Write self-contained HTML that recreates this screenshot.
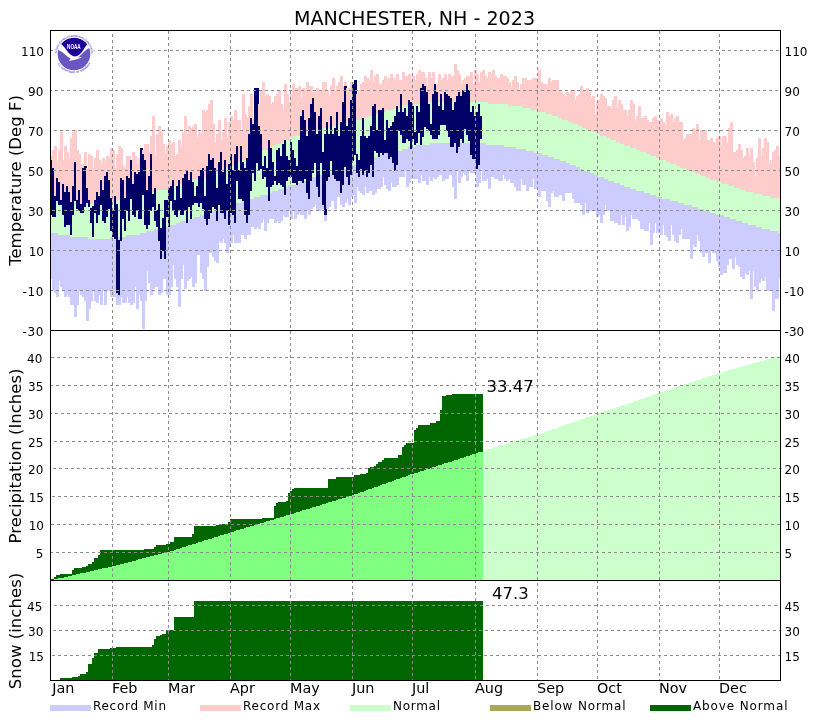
<!DOCTYPE html>
<html lang="en"><head><meta charset="utf-8"><title>MANCHESTER, NH - 2023</title>
<style>html,body{margin:0;padding:0;background:#fff}svg{display:block}</style></head>
<body><svg width="830" height="720" viewBox="0 0 830 720">
<rect x="0" y="0" width="830" height="720" fill="#fff"/>
<g shape-rendering="crispEdges">
<path fill="#ffcccc" d="M50 156h2v4h-2zM52 150h2v18h-2zM54 146h2v50h-2zM56 146h1v32h-1zM57 162h1v16h-1zM58 150h2v32h-2zM60 132h2v68h-2zM62 132h1v52h-1zM63 160h1v24h-1zM64 146h2v46h-2zM66 146h1v40h-1zM67 152h1v34h-1zM68 152h1v40h-1zM69 158h1v34h-1zM70 138h2v64h-2zM72 132h2v54h-2zM74 130h2v32h-2zM74 201h2v1h-2zM76 130h1v70h-1zM77 150h1v50h-1zM78 150h1v40h-1zM79 154h1v36h-1zM80 154h1v50h-1zM81 164h1v40h-1zM82 164h2v4h-2zM84 152h3v14h-3zM86 168h2v20h-2zM86 203h2v1h-2zM88 154h2v46h-2zM90 154h1v50h-1zM91 156h2v48h-2zM93 168h1v36h-1zM94 158h2v42h-2zM96 150h2v42h-2zM98 150h1v46h-1zM99 160h1v36h-1zM100 160h1v20h-1zM101 164h1v16h-1zM102 158h2v32h-2zM104 158h1v18h-1zM105 162h1v14h-1zM106 156h2v16h-2zM108 156h1v24h-1zM109 158h1v22h-1zM110 148h2v50h-2zM112 148h1v54h-1zM113 150h1v52h-1zM114 150h1v46h-1zM115 168h1v28h-1zM116 154h2v48h-2zM118 146h2v54h-2zM120 146h1v32h-1zM121 148h1v30h-1zM122 148h1v32h-1zM123 166h1v14h-1zM124 166h1v32h-1zM125 168h1v30h-1zM126 156h2v20h-2zM128 156h2v22h-2zM130 156h1v4h-1zM132 152h2v32h-2zM134 152h1v20h-1zM135 156h1v16h-1zM136 156h1v18h-1zM137 164h1v10h-1zM138 158h2v14h-2zM142 150h2v4h-2zM142 195h2v1h-2zM144 144h2v16h-2zM146 144h2v46h-2zM148 144h1v32h-1zM149 152h1v24h-1zM150 136h2v18h-2zM152 116h2v76h-2zM154 116h1v72h-1zM155 156h1v32h-1zM156 134h2v56h-2zM158 126h3v64h-3zM161 132h2v58h-2zM163 144h2v46h-2zM165 154h1v36h-1zM166 146h2v44h-2zM168 140h2v48h-2zM170 140h1v46h-1zM171 144h1v42h-1zM172 142h2v38h-2zM174 142h1v44h-1zM175 156h1v30h-1zM176 154h2v32h-2zM178 140h2v40h-2zM180 140h1v44h-1zM181 146h1v38h-1zM182 132h2v46h-2zM184 116h2v58h-2zM186 116h1v54h-1zM187 134h1v36h-1zM188 126h2v54h-2zM190 126h1v46h-1zM191 128h1v44h-1zM192 126h2v54h-2zM194 124h3v56h-3zM197 138h1v42h-1zM198 132h2v44h-2zM200 132h1v38h-1zM201 134h1v36h-1zM202 110h2v58h-2zM204 110h1v68h-1zM205 112h1v66h-1zM206 110h2v56h-2zM208 104h2v50h-2zM210 100h2v60h-2zM212 100h1v58h-1zM213 124h1v34h-1zM214 124h1v44h-1zM215 142h1v26h-1zM216 134h2v38h-2zM218 120h2v42h-2zM220 120h1v32h-1zM221 140h1v12h-1zM222 132h2v38h-2zM224 118h2v42h-2zM226 118h1v50h-1zM227 138h1v30h-1zM228 122h2v42h-2zM230 116h2v38h-2zM232 116h1v50h-1zM233 120h1v46h-1zM234 110h2v44h-2zM236 110h1v36h-1zM237 120h1v26h-1zM238 120h2v42h-2zM240 120h1v26h-1zM241 130h1v16h-1zM242 94h3v66h-3zM245 114h1v46h-1zM246 114h1v44h-1zM247 118h1v40h-1zM248 106h2v28h-2zM250 94h2v24h-2zM252 94h1v30h-1zM253 118h1v6h-1zM258 104h2v22h-2zM260 90h2v44h-2zM262 82h3v68h-3zM265 96h1v54h-1zM266 94h2v56h-2zM268 94h1v46h-1zM269 96h1v44h-1zM270 96h1v52h-1zM271 104h1v44h-1zM272 102h2v44h-2zM274 96h2v50h-2zM276 94h2v50h-2zM278 90h3v54h-3zM281 104h1v40h-1zM282 104h1v38h-1zM283 108h1v34h-1zM284 84h3v56h-3zM287 94h2v46h-2zM289 102h1v38h-1zM290 94h2v44h-2zM292 84h2v54h-2zM294 84h1v52h-1zM295 88h3v48h-3zM298 86h2v50h-2zM300 86h1v30h-1zM301 98h1v18h-1zM302 88h2v22h-2zM304 88h1v32h-1zM305 90h1v30h-1zM306 82h2v52h-2zM308 82h1v36h-1zM309 86h1v32h-1zM310 86h2v18h-2zM312 86h1v12h-1zM313 92h1v6h-1zM314 92h2v20h-2zM316 88h2v42h-2zM318 88h1v28h-1zM319 90h1v26h-1zM320 90h2v18h-2zM322 82h4v46h-4zM326 82h1v40h-1zM327 90h1v32h-1zM328 90h1v38h-1zM329 96h1v32h-1zM330 86h2v30h-2zM332 78h3v48h-3zM335 90h1v36h-1zM336 86h2v26h-2zM338 82h2v42h-2zM340 76h2v46h-2zM342 76h1v26h-1zM343 86h1v16h-1zM344 82h3v4h-3zM346 88h2v34h-2zM348 88h2v30h-2zM350 82h2v18h-2zM352 82h2v2h-2zM356 94h2v26h-2zM358 90h2v30h-2zM360 84h2v36h-2zM362 82h2v36h-2zM364 76h3v42h-3zM367 78h1v40h-1zM368 78h1v38h-1zM369 80h1v36h-1zM370 70h2v46h-2zM372 70h1v36h-1zM373 82h1v24h-1zM374 76h2v28h-2zM376 74h2v40h-2zM378 74h1v36h-1zM379 84h3v26h-3zM382 80h2v28h-2zM384 76h2v36h-2zM386 76h1v34h-1zM387 82h1v28h-1zM388 78h2v32h-2zM390 74h3v36h-3zM393 78h1v32h-1zM394 78h1v30h-1zM395 80h1v28h-1zM396 74h2v32h-2zM398 74h1v34h-1zM399 80h1v28h-1zM400 80h2v14h-2zM402 72h3v34h-3zM405 76h3v30h-3zM408 74h2v26h-2zM410 74h1v28h-1zM411 80h1v22h-1zM412 76h3v28h-3zM415 80h1v24h-1zM416 74h2v30h-2zM418 70h2v34h-2zM420 70h1v18h-1zM421 72h1v16h-1zM422 72h2v12h-2zM424 72h1v14h-1zM425 78h1v8h-1zM426 78h1v14h-1zM427 86h1v6h-1zM428 72h3v30h-3zM431 78h1v24h-1zM432 72h2v22h-2zM434 72h1v12h-1zM436 84h2v8h-2zM438 74h2v28h-2zM440 74h1v20h-1zM441 80h1v14h-1zM442 78h2v24h-2zM444 74h2v18h-2zM446 74h1v20h-1zM447 80h1v14h-1zM448 74h2v22h-2zM450 74h1v24h-1zM451 76h1v22h-1zM452 76h2v26h-2zM454 64h2v38h-2zM456 64h1v32h-1zM457 70h1v26h-1zM458 70h1v22h-1zM459 74h1v18h-1zM460 74h1v22h-1zM461 84h1v12h-1zM462 80h2v10h-2zM464 78h2v14h-2zM466 76h2v8h-2zM468 76h2v14h-2zM470 72h3v30h-3zM473 84h1v18h-1zM474 70h3v32h-3zM477 74h2v28h-2zM479 82h1v20h-1zM480 72h2v30h-2zM482 70h3v32h-3zM485 76h2v26h-2zM487 78h1v24h-1zM488 72h3v32h-3zM491 74h1v30h-1zM492 70h3v34h-3zM495 76h2v28h-2zM497 78h3v26h-3zM500 74h3v30h-3zM503 76h4v28h-4zM507 78h1v26h-1zM508 78h1v28h-1zM509 82h2v24h-2zM511 86h1v20h-1zM512 80h2v26h-2zM514 76h3v30h-3zM517 82h2v24h-2zM519 90h1v16h-1zM520 84h2v22h-2zM522 78h5v30h-5zM527 80h3v28h-3zM530 80h2v30h-2zM532 78h6v32h-6zM538 70h3v42h-3zM541 82h2v30h-2zM543 84h3v28h-3zM546 84h2v30h-2zM548 78h3v36h-3zM551 82h1v32h-1zM552 80h6v36h-6zM558 80h1v38h-1zM559 90h2v28h-2zM561 92h1v26h-1zM562 92h1v28h-1zM563 94h2v26h-2zM565 96h1v24h-1zM566 92h2v28h-2zM568 92h1v30h-1zM569 94h1v28h-1zM570 90h2v32h-2zM572 90h3v34h-3zM575 100h1v24h-1zM576 96h2v28h-2zM578 94h2v32h-2zM580 86h2v40h-2zM582 86h1v42h-1zM583 90h3v38h-3zM586 88h3v42h-3zM589 92h2v38h-2zM591 98h1v32h-1zM592 96h3v36h-3zM595 114h1v18h-1zM596 102h2v32h-2zM598 100h2v34h-2zM600 94h3v42h-3zM603 96h2v40h-2zM605 98h1v38h-1zM606 98h1v40h-1zM607 106h3v32h-3zM610 106h1v34h-1zM611 108h1v32h-1zM612 100h2v40h-2zM614 96h2v44h-2zM616 96h1v46h-1zM617 108h1v34h-1zM618 100h2v42h-2zM620 100h1v44h-1zM621 104h2v40h-2zM623 110h1v34h-1zM624 110h3v36h-3zM627 116h1v30h-1zM628 110h2v36h-2zM630 100h3v48h-3zM633 104h2v44h-2zM635 122h1v26h-1zM636 116h2v34h-2zM638 106h2v44h-2zM640 106h1v46h-1zM641 118h3v34h-3zM644 116h2v36h-2zM646 116h1v38h-1zM647 120h2v34h-2zM649 122h1v32h-1zM650 122h2v34h-2zM652 118h2v38h-2zM654 116h2v40h-2zM656 116h1v42h-1zM657 120h3v38h-3zM660 118h3v42h-3zM663 122h2v38h-2zM665 124h1v36h-1zM666 112h3v50h-3zM669 116h1v46h-1zM670 114h3v50h-3zM673 122h1v42h-1zM674 118h2v46h-2zM676 116h3v50h-3zM679 122h1v44h-1zM680 122h3v46h-3zM683 140h1v28h-1zM684 138h2v30h-2zM686 134h4v36h-4zM690 134h2v38h-2zM692 128h3v44h-3zM695 130h1v42h-1zM696 124h3v50h-3zM699 140h1v34h-1zM700 130h6v46h-6zM706 130h1v48h-1zM707 140h3v38h-3zM710 138h3v42h-3zM713 142h2v38h-2zM715 144h1v36h-1zM716 138h2v44h-2zM718 136h3v46h-3zM721 146h1v36h-1zM722 136h5v48h-5zM727 142h1v42h-1zM728 128h2v58h-2zM730 122h3v64h-3zM733 152h1v34h-1zM734 152h2v36h-2zM736 150h2v38h-2zM738 144h2v44h-2zM740 144h1v46h-1zM741 150h2v40h-2zM743 158h1v32h-1zM744 156h2v34h-2zM746 148h3v44h-3zM749 156h1v36h-1zM750 148h3v44h-3zM753 162h1v30h-1zM754 162h1v32h-1zM755 176h1v18h-1zM756 158h2v36h-2zM758 138h3v56h-3zM761 156h1v38h-1zM762 148h2v48h-2zM764 138h3v58h-3zM767 142h2v54h-2zM769 164h1v32h-1zM770 160h2v38h-2zM772 152h2v46h-2zM774 150h2v48h-2zM776 146h3v52h-3zM779 156h2v42h-2z"/>
<path fill="#ccccff" d="M50 233h2v46h-2zM52 233h2v58h-2zM54 233h2v60h-2zM56 233h2v64h-2zM58 235h1v62h-1zM59 235h1v46h-1zM60 235h2v52h-2zM62 235h2v56h-2zM64 235h3v62h-3zM67 235h1v60h-1zM68 235h2v62h-2zM70 237h4v68h-4zM74 237h3v80h-3zM77 237h2v68h-2zM79 237h1v54h-1zM80 237h2v58h-2zM82 237h2v60h-2zM84 237h2v64h-2zM86 237h2v84h-2zM88 239h1v82h-1zM89 239h2v70h-2zM91 239h2v62h-2zM93 239h1v52h-1zM94 239h2v62h-2zM96 239h3v64h-3zM99 239h1v56h-1zM100 239h3v66h-3zM103 239h1v52h-1zM104 239h3v66h-3zM107 239h3v52h-3zM110 237h4v60h-4zM114 239h2v58h-2zM116 293h2v12h-2zM118 295h2v10h-2zM118 237h2v3h-2zM120 241h1v64h-1zM121 241h1v56h-1zM122 237h4v66h-4zM126 235h1v68h-1zM127 235h1v62h-1zM128 235h2v68h-2zM130 235h3v70h-3zM133 235h2v68h-2zM135 235h1v52h-1zM136 235h3v74h-3zM139 235h1v60h-1zM140 233h2v68h-2zM142 233h3v96h-3zM145 233h1v68h-1zM146 231h1v70h-1zM147 231h1v40h-1zM148 231h2v52h-2zM150 231h3v64h-3zM153 231h1v58h-1zM154 229h1v60h-1zM155 229h3v58h-3zM158 241h2v54h-2zM160 259h1v36h-1zM161 259h1v34h-1zM162 251h1v42h-1zM163 251h1v28h-1zM164 259h2v20h-2zM166 227h4v68h-4zM170 225h1v70h-1zM171 225h2v62h-2zM173 225h1v40h-1zM174 225h2v54h-2zM176 223h2v64h-2zM178 223h2v84h-2zM180 221h1v86h-1zM181 221h2v58h-2zM183 221h1v44h-1zM184 221h2v68h-2zM186 223h1v66h-1zM187 223h1v58h-1zM188 219h1v62h-1zM189 219h2v60h-2zM191 219h1v58h-1zM192 219h2v68h-2zM194 217h1v70h-1zM195 217h2v66h-2zM197 217h3v38h-3zM200 215h2v58h-2zM202 215h2v64h-2zM204 219h2v72h-2zM206 225h1v66h-1zM207 225h1v42h-1zM208 219h1v48h-1zM209 219h1v34h-1zM210 213h2v40h-2zM212 211h2v46h-2zM214 211h2v50h-2zM216 221h2v42h-2zM218 209h1v54h-1zM219 209h1v32h-1zM220 213h3v30h-3zM223 213h1v26h-1zM224 219h2v24h-2zM226 211h2v42h-2zM228 225h1v28h-1zM229 225h1v22h-1zM230 213h1v34h-1zM231 213h1v30h-1zM232 215h1v28h-1zM233 215h1v20h-1zM234 223h2v20h-2zM236 203h5v40h-5zM241 203h1v32h-1zM242 201h2v34h-2zM244 215h2v24h-2zM246 223h1v16h-1zM247 223h1v12h-1zM248 215h2v20h-2zM250 199h1v36h-1zM251 199h3v28h-3zM254 197h3v32h-3zM257 197h1v30h-1zM258 197h2v32h-2zM260 195h1v34h-1zM261 195h2v28h-2zM263 195h1v24h-1zM264 195h3v36h-3zM267 195h1v28h-1zM268 201h1v22h-1zM269 201h1v18h-1zM270 193h2v26h-2zM272 191h2v28h-2zM274 191h3v32h-3zM277 191h1v30h-1zM278 189h3v34h-3zM281 189h2v32h-2zM283 189h1v26h-1zM284 195h2v22h-2zM286 187h2v30h-2zM288 185h1v32h-1zM289 185h1v26h-1zM290 185h3v34h-3zM293 185h1v26h-1zM294 185h3v34h-3zM297 185h1v30h-1zM298 183h1v32h-1zM299 183h1v30h-1zM300 181h2v34h-2zM302 183h2v32h-2zM304 181h2v38h-2zM306 193h1v26h-1zM307 193h1v18h-1zM308 199h2v16h-2zM310 181h1v34h-1zM311 181h1v28h-1zM312 177h1v32h-1zM313 177h2v30h-2zM315 177h1v28h-1zM316 187h2v24h-2zM318 197h2v14h-2zM320 175h1v36h-1zM321 175h1v34h-1zM322 205h2v4h-2zM324 215h3v6h-3zM326 181h2v28h-2zM328 177h1v32h-1zM329 177h1v30h-1zM330 173h1v34h-1zM331 173h1v28h-1zM332 175h2v26h-2zM334 179h2v30h-2zM336 181h1v28h-1zM337 181h3v16h-3zM340 193h2v12h-2zM342 185h2v22h-2zM344 169h1v38h-1zM345 169h1v34h-1zM346 177h1v26h-1zM347 177h1v22h-1zM348 185h2v20h-2zM350 175h1v30h-1zM351 175h1v22h-1zM352 165h1v32h-1zM353 165h1v30h-1zM354 165h2v38h-2zM356 173h1v30h-1zM357 173h1v14h-1zM358 177h2v14h-2zM360 169h2v24h-2zM362 175h2v20h-2zM364 171h1v24h-1zM365 171h1v16h-1zM366 177h2v16h-2zM368 173h1v20h-1zM369 173h1v18h-1zM370 165h2v26h-2zM372 177h2v18h-2zM374 157h1v38h-1zM375 157h2v36h-2zM377 157h3v32h-3zM380 155h1v34h-1zM381 155h2v32h-2zM383 155h1v22h-1zM384 153h2v32h-2zM386 153h2v36h-2zM388 159h2v32h-2zM390 157h1v34h-1zM391 157h1v26h-1zM392 163h2v24h-2zM394 171h2v16h-2zM396 165h1v22h-1zM397 165h1v20h-1zM398 151h1v34h-1zM399 151h3v26h-3zM402 149h3v28h-3zM405 149h1v22h-1zM406 149h2v38h-2zM408 147h1v40h-1zM409 147h1v36h-1zM410 149h1v34h-1zM411 149h1v30h-1zM412 147h4v32h-4zM416 145h2v34h-2zM418 145h3v38h-3zM421 145h1v30h-1zM422 145h4v36h-4zM426 145h3v40h-3zM429 145h1v32h-1zM430 143h3v38h-3zM433 143h1v34h-1zM434 143h3v36h-3zM437 143h2v34h-2zM439 143h3v32h-3zM442 143h3v38h-3zM445 143h4v36h-4zM449 143h1v32h-1zM450 147h2v28h-2zM452 147h2v40h-2zM454 143h2v56h-2zM456 153h1v46h-1zM457 153h1v18h-1zM458 147h2v36h-2zM460 143h1v40h-1zM461 143h2v34h-2zM463 143h1v30h-1zM464 143h2v32h-2zM466 143h3v38h-3zM469 143h1v28h-1zM470 155h2v18h-2zM472 159h3v14h-3zM475 159h1v12h-1zM476 169h2v18h-2zM478 165h1v22h-1zM479 165h1v18h-1zM480 143h1v40h-1zM481 143h1v26h-1zM482 143h4v38h-4zM486 145h1v36h-1zM487 145h1v34h-1zM488 145h3v44h-3zM491 145h3v32h-3zM494 145h4v34h-4zM498 145h5v36h-5zM503 145h1v30h-1zM504 147h2v32h-2zM506 147h3v34h-3zM509 147h1v32h-1zM510 147h4v36h-4zM514 147h2v40h-2zM516 149h5v42h-5zM521 149h1v30h-1zM522 149h4v36h-4zM526 151h3v40h-3zM529 151h4v36h-4zM533 151h1v28h-1zM534 153h4v36h-4zM538 153h3v44h-3zM541 153h1v38h-1zM542 155h4v36h-4zM546 155h2v46h-2zM548 157h3v50h-3zM551 157h2v36h-2zM553 157h1v34h-1zM554 159h5v38h-5zM559 159h1v36h-1zM560 161h2v34h-2zM562 161h3v40h-3zM565 161h1v32h-1zM566 163h4v30h-4zM570 165h2v28h-2zM572 165h2v34h-2zM574 165h2v38h-2zM576 167h4v36h-4zM580 169h2v36h-2zM582 169h2v46h-2zM584 171h1v44h-1zM585 171h1v32h-1zM586 171h3v42h-3zM589 171h1v40h-1zM590 173h4v38h-4zM594 175h2v36h-2zM596 175h2v42h-2zM598 177h1v40h-1zM599 177h1v38h-1zM600 177h3v46h-3zM603 177h1v38h-1zM604 179h1v36h-1zM605 179h1v26h-1zM606 179h2v32h-2zM608 181h2v30h-2zM610 181h4v40h-4zM614 183h4v40h-4zM618 183h2v42h-2zM620 185h1v40h-1zM621 185h1v30h-1zM622 185h2v40h-2zM624 187h1v38h-1zM625 187h1v30h-1zM626 187h3v44h-3zM629 187h1v40h-1zM630 189h1v38h-1zM631 189h1v26h-1zM632 189h4v30h-4zM636 191h2v28h-2zM638 191h2v30h-2zM640 191h4v38h-4zM644 193h5v38h-5zM649 193h1v30h-1zM650 195h3v50h-3zM653 195h2v38h-2zM655 195h1v28h-1zM656 197h4v36h-4zM660 197h2v38h-2zM662 199h1v36h-1zM663 199h1v26h-1zM664 199h2v36h-2zM666 199h2v38h-2zM668 199h2v42h-2zM670 201h1v40h-1zM671 201h1v24h-1zM672 201h2v34h-2zM674 201h2v40h-2zM676 201h2v42h-2zM678 203h1v40h-1zM679 203h2v32h-2zM681 203h1v26h-1zM682 203h2v36h-2zM684 205h6v34h-6zM690 205h2v54h-2zM692 207h1v52h-1zM693 207h1v38h-1zM694 207h3v40h-3zM697 207h1v28h-1zM698 209h2v32h-2zM700 209h2v44h-2zM702 209h2v48h-2zM704 211h1v46h-1zM705 211h3v42h-3zM708 211h2v52h-2zM710 213h1v50h-1zM711 213h1v38h-1zM712 213h4v40h-4zM716 215h2v46h-2zM718 215h2v52h-2zM720 215h3v60h-3zM723 215h1v58h-1zM724 217h3v56h-3zM727 217h2v48h-2zM729 217h1v42h-1zM730 219h2v40h-2zM732 219h3v50h-3zM735 219h1v38h-1zM736 221h2v44h-2zM738 221h2v46h-2zM740 221h2v56h-2zM742 223h3v56h-3zM745 223h1v50h-1zM746 223h2v52h-2zM748 225h1v50h-1zM749 225h1v46h-1zM750 225h3v74h-3zM753 225h1v46h-1zM754 225h2v62h-2zM756 227h3v64h-3zM759 227h2v56h-2zM761 227h1v52h-1zM762 229h3v52h-3zM765 229h1v48h-1zM766 229h4v62h-4zM770 231h2v60h-2zM772 231h3v80h-3zM775 231h3v68h-3zM778 233h1v66h-1zM779 233h2v46h-2z"/>
<path fill="#ccffcc" d="M50 215h2v18h-2zM52 217h4v16h-4zM56 201h2v32h-2zM58 205h4v30h-4zM62 215h2v20h-2zM64 227h2v8h-2zM66 225h4v10h-4zM70 235h2v2h-2zM72 215h2v22h-2zM74 202h2v35h-2zM76 209h2v28h-2zM78 211h2v26h-2zM80 213h4v24h-4zM84 207h2v30h-2zM86 204h2v33h-2zM88 207h2v32h-2zM90 223h2v16h-2zM90 204h2v4h-2zM92 237h2v2h-2zM92 204h2v2h-2zM94 213h2v26h-2zM96 223h2v16h-2zM98 215h2v24h-2zM100 205h2v34h-2zM102 221h2v18h-2zM104 223h2v16h-2zM106 217h2v22h-2zM108 209h2v30h-2zM110 231h2v6h-2zM112 202h2v8h-2zM116 202h2v2h-2zM118 200h2v37h-2zM122 219h2v18h-2zM124 231h2v6h-2zM126 211h2v24h-2zM128 221h2v14h-2zM130 199h2v36h-2zM132 215h2v20h-2zM134 217h2v18h-2zM136 211h2v24h-2zM138 219h2v16h-2zM140 219h2v14h-2zM142 196h2v37h-2zM144 225h2v8h-2zM146 229h2v2h-2zM148 225h2v6h-2zM150 211h2v20h-2zM152 192h2v2h-2zM152 207h2v24h-2zM154 221h2v8h-2zM156 190h2v20h-2zM156 227h2v2h-2zM158 190h2v14h-2zM160 190h2v38h-2zM162 190h2v28h-2zM164 190h4v10h-4zM166 217h2v10h-2zM170 201h2v24h-2zM172 211h2v14h-2zM174 215h2v10h-2zM174 186h2v14h-2zM176 217h2v6h-2zM178 211h2v12h-2zM180 184h2v14h-2zM180 215h4v6h-4zM184 211h2v10h-2zM188 207h2v12h-2zM192 205h2v14h-2zM192 180h2v2h-2zM194 180h2v16h-2zM194 203h4v14h-4zM196 180h2v6h-2zM198 207h2v10h-2zM200 203h2v12h-2zM202 209h2v6h-2zM204 178h2v18h-2zM212 207h2v4h-2zM214 209h2v2h-2zM216 172h2v16h-2zM218 205h2v4h-2zM222 170h2v2h-2zM226 168h2v16h-2zM232 166h2v4h-2zM236 181h2v22h-2zM238 162h2v8h-2zM238 199h4v4h-4zM242 160h2v2h-2zM244 160h2v8h-2zM250 191h2v8h-2zM252 173h2v26h-2zM254 181h2v16h-2zM256 163h2v34h-2zM258 171h2v26h-2zM260 169h2v26h-2zM262 179h2v16h-2zM262 150h2v16h-2zM264 177h2v18h-2zM264 150h2v6h-2zM266 187h2v8h-2zM266 150h2v18h-2zM270 187h2v6h-2zM272 146h2v16h-2zM272 185h2v6h-2zM274 146h2v30h-2zM274 181h2v10h-2zM276 144h2v6h-2zM276 185h2v6h-2zM278 144h2v4h-2zM278 183h2v6h-2zM280 185h2v4h-2zM280 144h2v12h-2zM282 187h2v2h-2zM282 142h2v2h-2zM286 140h2v16h-2zM286 181h2v6h-2zM288 140h2v20h-2zM288 177h4v8h-4zM290 138h2v4h-2zM292 138h2v12h-2zM292 183h4v2h-4zM294 136h2v22h-2zM296 136h2v30h-2zM298 136h2v4h-2zM298 181h2v2h-2zM304 179h2v2h-2zM306 134h2v2h-2zM312 173h2v4h-2zM314 163h2v14h-2zM316 130h2v4h-2zM320 163h2v12h-2zM322 128h2v24h-2zM324 128h2v6h-2zM328 128h2v6h-2zM330 161h2v12h-2zM332 126h2v8h-2zM334 126h2v2h-2zM338 124h2v12h-2zM344 167h2v2h-2zM346 122h2v4h-2zM352 161h2v4h-2zM354 155h2v10h-2zM356 120h2v34h-2zM358 120h2v40h-2zM360 120h2v16h-2zM364 118h2v18h-2zM366 118h2v20h-2zM368 116h2v20h-2zM370 116h2v10h-2zM374 151h2v6h-2zM376 153h2v4h-2zM376 114h2v16h-2zM380 153h2v2h-2zM384 112h2v28h-2zM386 110h2v10h-2zM388 110h2v18h-2zM390 110h2v16h-2zM392 110h2v12h-2zM394 108h2v8h-2zM398 108h2v4h-2zM398 131h2v20h-2zM400 135h2v16h-2zM402 106h2v6h-2zM402 143h4v6h-4zM404 106h2v2h-2zM406 106h2v10h-2zM406 139h2v10h-2zM408 141h2v6h-2zM412 104h2v2h-2zM412 139h2v8h-2zM414 145h2v2h-2zM414 104h2v28h-2zM416 104h2v2h-2zM416 143h2v2h-2zM418 104h2v8h-2zM418 133h2v12h-2zM422 137h2v8h-2zM424 127h2v18h-2zM426 129h2v16h-2zM428 131h2v14h-2zM428 102h2v2h-2zM430 102h2v22h-2zM430 135h2v8h-2zM432 139h6v4h-6zM438 102h2v4h-2zM438 135h2v8h-2zM442 102h2v8h-2zM440 125h6v18h-6zM446 131h2v12h-2zM448 137h2v6h-2zM452 102h2v8h-2zM460 139h2v4h-2zM464 129h2v14h-2zM466 135h2v8h-2zM468 141h2v2h-2zM470 102h2v10h-2zM472 102h2v4h-2zM474 102h2v14h-2zM476 102h2v10h-2zM478 102h2v2h-2zM480 139h2v4h-2zM480 102h2v14h-2zM482 102h4v41h-4zM486 102h2v43h-2zM488 104h16v41h-16zM504 104h4v43h-4zM508 106h8v41h-8zM516 106h6v43h-6zM522 108h4v41h-4zM526 108h4v43h-4zM530 110h4v41h-4zM534 110h4v43h-4zM538 112h4v41h-4zM542 112h4v43h-4zM546 114h2v41h-2zM548 114h4v43h-4zM552 116h2v41h-2zM554 116h4v43h-4zM558 118h2v41h-2zM560 118h2v43h-2zM562 120h4v41h-4zM566 120h2v43h-2zM568 122h2v41h-2zM570 122h2v43h-2zM572 124h4v41h-4zM576 124h2v43h-2zM578 126h2v41h-2zM580 126h2v43h-2zM582 128h2v41h-2zM584 128h2v43h-2zM586 130h4v41h-4zM590 130h2v43h-2zM592 132h2v41h-2zM594 132h2v43h-2zM596 134h2v41h-2zM598 134h2v43h-2zM600 136h4v41h-4zM604 136h2v43h-2zM606 138h2v41h-2zM608 138h2v43h-2zM610 140h4v41h-4zM614 140h2v43h-2zM616 142h4v41h-4zM620 144h4v41h-4zM624 146h6v41h-6zM630 148h6v41h-6zM636 150h4v41h-4zM640 152h4v39h-4zM644 152h2v41h-2zM646 154h4v39h-4zM650 156h6v39h-6zM656 158h4v39h-4zM660 160h2v37h-2zM662 160h4v39h-4zM666 162h4v37h-4zM670 164h6v37h-6zM676 166h2v35h-2zM678 166h2v37h-2zM680 168h4v35h-4zM684 168h2v37h-2zM686 170h4v35h-4zM690 172h2v33h-2zM692 172h4v35h-4zM696 174h2v33h-2zM698 174h2v35h-2zM700 176h4v33h-4zM704 176h2v35h-2zM706 178h4v33h-4zM710 180h6v33h-6zM716 182h6v33h-6zM722 184h2v31h-2zM724 184h4v33h-4zM728 186h2v31h-2zM730 186h4v33h-4zM734 188h2v31h-2zM736 188h4v33h-4zM740 190h2v31h-2zM742 190h4v33h-4zM746 192h2v31h-2zM748 192h6v33h-6zM754 194h2v31h-2zM756 194h6v33h-6zM762 196h8v33h-8zM770 198h8v33h-8zM778 198h3v35h-3z"/>
<path fill="#000066" d="M50 160h2v55h-2zM52 168h2v49h-2zM54 196h2v21h-2zM56 178h2v23h-2zM58 182h2v23h-2zM60 200h2v5h-2zM62 184h2v31h-2zM64 192h2v35h-2zM66 186h2v39h-2zM68 192h2v33h-2zM70 202h2v33h-2zM72 186h2v29h-2zM74 162h2v39h-2zM76 200h2v9h-2zM78 190h2v21h-2zM80 204h2v9h-2zM82 168h2v45h-2zM84 166h2v41h-2zM86 166h1v2h-1zM86 188h2v15h-2zM88 200h2v7h-2zM90 208h2v15h-2zM92 206h2v31h-2zM94 200h2v13h-2zM96 192h2v31h-2zM98 196h2v19h-2zM100 180h2v25h-2zM102 190h2v31h-2zM104 176h2v47h-2zM106 172h2v45h-2zM108 180h2v29h-2zM110 198h2v33h-2zM112 210h2v27h-2zM114 196h2v43h-2zM116 204h2v89h-2zM118 240h2v55h-2zM120 178h2v63h-2zM122 180h2v39h-2zM124 198h2v33h-2zM126 176h2v35h-2zM128 178h2v43h-2zM130 160h2v39h-2zM132 184h2v31h-2zM134 172h2v45h-2zM136 174h2v37h-2zM138 172h2v47h-2zM140 148h2v71h-2zM142 148h1v2h-1zM142 154h2v41h-2zM144 160h2v65h-2zM146 190h2v39h-2zM148 176h2v49h-2zM150 154h2v57h-2zM152 194h2v13h-2zM154 188h2v33h-2zM156 210h2v17h-2zM158 204h2v37h-2zM160 228h2v31h-2zM162 218h2v33h-2zM164 200h2v59h-2zM166 200h2v17h-2zM168 188h2v39h-2zM170 186h2v15h-2zM172 180h2v31h-2zM174 200h2v15h-2zM176 186h2v31h-2zM178 180h2v31h-2zM180 198h2v17h-2zM182 178h2v37h-2zM184 174h2v37h-2zM186 170h2v53h-2zM188 180h2v27h-2zM190 172h2v47h-2zM192 182h2v23h-2zM194 196h2v7h-2zM196 186h2v17h-2zM198 176h2v31h-2zM200 170h2v33h-2zM202 168h2v41h-2zM204 196h2v23h-2zM206 166h2v59h-2zM208 154h2v65h-2zM210 160h2v53h-2zM212 158h2v49h-2zM214 168h2v41h-2zM216 188h2v33h-2zM218 162h2v43h-2zM220 152h2v61h-2zM222 172h2v41h-2zM224 160h2v59h-2zM226 184h2v27h-2zM228 164h2v61h-2zM230 154h2v59h-2zM232 170h2v45h-2zM234 154h2v69h-2zM236 146h2v35h-2zM238 170h2v29h-2zM240 146h2v53h-2zM242 162h2v39h-2zM244 168h2v47h-2zM246 158h2v65h-2zM248 134h2v81h-2zM250 118h2v73h-2zM252 124h2v49h-2zM254 88h2v93h-2zM256 88h2v75h-2zM258 88h1v16h-1zM258 126h2v45h-2zM260 134h2v35h-2zM262 166h2v13h-2zM264 156h2v21h-2zM266 168h2v19h-2zM268 140h2v61h-2zM270 148h2v39h-2zM272 162h2v23h-2zM274 176h2v5h-2zM276 150h2v35h-2zM278 148h2v35h-2zM280 156h2v29h-2zM282 144h2v43h-2zM284 140h2v55h-2zM286 156h2v25h-2zM288 160h2v17h-2zM290 142h2v35h-2zM292 150h2v33h-2zM294 158h2v25h-2zM296 166h2v19h-2zM298 140h2v41h-2zM300 116h2v65h-2zM302 110h2v73h-2zM304 120h2v59h-2zM306 136h2v57h-2zM308 118h2v81h-2zM310 104h2v77h-2zM312 98h2v75h-2zM314 112h2v51h-2zM316 134h2v53h-2zM318 116h2v81h-2zM320 108h2v55h-2zM322 152h2v53h-2zM324 134h2v81h-2zM326 209h1v6h-1zM326 122h2v59h-2zM328 134h2v43h-2zM330 116h2v45h-2zM332 134h2v41h-2zM334 128h2v51h-2zM336 112h2v69h-2zM338 136h2v45h-2zM340 122h2v71h-2zM342 102h2v83h-2zM344 86h2v81h-2zM346 86h1v2h-1zM346 126h2v51h-2zM348 118h2v67h-2zM350 100h2v75h-2zM352 84h2v77h-2zM354 80h2v75h-2zM356 80h1v14h-1zM356 154h2v19h-2zM358 160h2v17h-2zM360 136h2v33h-2zM362 118h2v57h-2zM364 136h2v35h-2zM366 138h2v39h-2zM368 136h2v37h-2zM370 126h2v39h-2zM372 106h2v71h-2zM374 104h2v47h-2zM376 130h2v23h-2zM378 110h2v47h-2zM380 110h2v43h-2zM382 108h2v47h-2zM384 140h2v13h-2zM386 120h2v33h-2zM388 128h2v31h-2zM390 126h2v31h-2zM392 122h2v41h-2zM394 116h2v55h-2zM396 106h2v59h-2zM398 112h2v19h-2zM400 94h2v41h-2zM402 112h2v31h-2zM404 108h2v35h-2zM406 116h2v23h-2zM408 100h2v41h-2zM410 102h2v47h-2zM412 106h2v33h-2zM414 132h2v13h-2zM416 106h2v37h-2zM418 112h2v21h-2zM420 88h2v57h-2zM422 84h2v53h-2zM424 86h2v41h-2zM426 92h2v37h-2zM428 104h2v27h-2zM430 124h2v11h-2zM432 94h2v45h-2zM434 84h2v55h-2zM436 92h2v47h-2zM438 106h2v29h-2zM440 94h2v31h-2zM442 110h2v15h-2zM444 92h2v33h-2zM446 94h2v37h-2zM448 96h2v41h-2zM450 98h2v49h-2zM452 110h2v37h-2zM454 102h2v41h-2zM456 96h2v57h-2zM458 92h2v55h-2zM460 96h2v43h-2zM462 90h2v53h-2zM464 92h2v37h-2zM466 84h2v51h-2zM468 90h2v51h-2zM470 112h2v43h-2zM472 106h2v53h-2zM474 116h2v43h-2zM476 112h2v57h-2zM478 104h2v61h-2zM480 116h2v23h-2z"/>
<path fill="#ccffcc" d="M50 580H54V579H58V578H64V577H68V576H72V575H76V574H80V573H86V572H90V571H94V570H98V569H102V568H108V567H112V566H116V565H120V564H124V563H128V562H132V561H136V560H138V559H142V558H146V557H150V556H154V555H158V554H162V553H166V552H170V551H174V550H176V549H180V548H182V547H186V546H188V545H192V544H196V543H198V542H202V541H204V540H208V539H212V538H214V537H218V536H220V535H224V534H228V533H230V532H234V531H236V530H240V529H244V528H246V527H250V526H254V525H256V524H260V523H264V522H266V521H270V520H274V519H276V518H280V517H284V516H286V515H290V514H294V513H296V512H300V511H302V510H306V509H310V508H312V507H316V506H320V505H322V504H326V503H328V502H332V501H336V500H338V499H342V498H346V497H348V496H352V495H354V494H358V493H360V492H364V491H366V490H368V489H372V488H374V487H378V486H380V485H382V484H386V483H388V482H392V481H394V480H396V479H400V478H402V477H406V476H408V475H410V474H414V473H418V472H420V471H424V470H426V469H430V468H432V467H436V466H438V465H442V464H444V463H448V462H452V461H454V460H458V459H460V458H464V457H466V456H470V455H472V454H476V453H478V452H482V451H484V450H488V449H492V448H494V447H498V446H500V445H504V444H508V443H510V442H514V441H518V440H520V439H524V438H528V437H532V436H534V435H538V434H542V433H544V432H546V431H550V430H552V429H556V428H558V427H560V426H564V425H566V424H570V423H572V422H576V421H578V420H580V419H584V418H586V417H590V416H592V415H596V414H598V413H600V412H604V411H608V410H610V409H614V408H616V407H620V406H622V405H626V404H628V403H632V402H634V401H638V400H640V399H644V398H646V397H650V396H652V395H654V394H658V393H660V392H664V391H666V390H670V389H672V388H674V387H678V386H682V385H684V384H688V383H690V382H694V381H696V380H700V379H702V378H706V377H708V376H712V375H716V374H718V373H722V372H724V371H728V370H732V369H736V368H738V367H742V366H746V365H750V364H752V363H756V362H760V361H764V360H766V359H770V358H774V357H778V356H781V580H50Z"/>
<path fill="#006600" d="M50 579H54V577H56V575H60V574H72V570H74V568H82V567H86V566H88V564H92V562H94V558H98V555H100V550H144V549H154V547H156V545H166V544H170V542H174V537H192V534H194V526H216V525H220V524H228V522H230V519H262V518H274V506H276V503H278V502H286V501H288V493H290V491H292V489H294V488H328V479H336V477H354V475H360V474H366V473H368V468H370V467H374V466H376V464H378V462H382V460H384V458H398V455H402V447H404V445H406V443H414V430H416V428H418V425H430V423H436V421H440V410H442V396H446V395H452V394H483V580H50Z"/>
<path fill="#80ff80" d="M50 580H54V579H58V578H64V577H68V576H72V575H76V574H80V573H86V572H90V571H94V570H98V569H102V568H108V567H112V566H116V565H120V564H124V563H128V562H132V561H136V560H138V559H142V558H146V557H150V556H154V555H158V554H162V553H166V552H170V551H174V550H176V549H180V548H182V547H186V546H188V545H192V544H196V543H198V542H202V541H204V540H208V539H212V538H214V537H218V536H220V535H224V534H228V533H230V532H234V531H236V530H240V529H244V528H246V527H250V526H254V525H256V524H260V523H264V522H266V521H270V520H274V519H276V518H280V517H284V516H286V515H290V514H294V513H296V512H300V511H302V510H306V509H310V508H312V507H316V506H320V505H322V504H326V503H328V502H332V501H336V500H338V499H342V498H346V497H348V496H352V495H354V494H358V493H360V492H364V491H366V490H368V489H372V488H374V487H378V486H380V485H382V484H386V483H388V482H392V481H394V480H396V479H400V478H402V477H406V476H408V475H410V474H414V473H418V472H420V471H424V470H426V469H430V468H432V467H436V466H438V465H442V464H444V463H448V462H452V461H454V460H458V459H460V458H464V457H466V456H470V455H472V454H476V453H478V452H483V580H50Z"/>
<path fill="#006600" d="M60 678H72V677H78V676H80V674H86V672H88V664H92V658H94V653H98V649H110V648H116V647H152V645H154V639H156V636H160V635H162V634H166V630H174V617H194V601H483V680H60Z"/>
<g stroke="#8c8c8c" stroke-width="1" stroke-dasharray="3 3" fill="none">
<path d="M51 50.5 H780" stroke-dashoffset="1"/>
<path d="M51 90.5 H780" stroke-dashoffset="2"/>
<path d="M51 130.5 H780" stroke-dashoffset="3"/>
<path d="M51 170.5 H780" stroke-dashoffset="4"/>
<path d="M51 210.5 H780" stroke-dashoffset="5"/>
<path d="M51 250.5 H780" stroke-dashoffset="0"/>
<path d="M51 290.5 H780" stroke-dashoffset="1"/>
<path d="M51 357.5 H780" stroke-dashoffset="0"/>
<path d="M51 385.5 H780" stroke-dashoffset="1"/>
<path d="M51 413.5 H780" stroke-dashoffset="2"/>
<path d="M51 441.5 H780" stroke-dashoffset="3"/>
<path d="M51 468.5 H780" stroke-dashoffset="4"/>
<path d="M51 496.5 H780" stroke-dashoffset="5"/>
<path d="M51 524.5 H780" stroke-dashoffset="0"/>
<path d="M51 552.5 H780" stroke-dashoffset="1"/>
<path d="M51 605.5 H780" stroke-dashoffset="3"/>
<path d="M51 630.5 H780" stroke-dashoffset="4"/>
<path d="M51 655.5 H780" stroke-dashoffset="5"/>
<path d="M112.5 31 V680" stroke-dashoffset="3"/>
<path d="M168.5 31 V680" stroke-dashoffset="0"/>
<path d="M230.5 31 V680" stroke-dashoffset="3"/>
<path d="M290.5 31 V680" stroke-dashoffset="0"/>
<path d="M352.5 31 V680" stroke-dashoffset="3"/>
<path d="M412.5 31 V680" stroke-dashoffset="0"/>
<path d="M475.5 31 V680" stroke-dashoffset="3"/>
<path d="M537.5 31 V680" stroke-dashoffset="0"/>
<path d="M597.5 31 V680" stroke-dashoffset="3"/>
<path d="M659.5 31 V680" stroke-dashoffset="0"/>
<path d="M719.5 31 V680" stroke-dashoffset="3"/>
</g>
<path d="M50.5 30.5H780.5V680.5H50.5ZM50 330.5H781M50 580.5H781" stroke="#000" stroke-width="1" fill="none"/>
</g>
<g transform="translate(74 54)">
<rect x="-21" y="-21" width="41.4" height="42" fill="#fff"/>
<defs>
<path id="ringTop" d="M-17.2 0A17.2 17.2 0 0 1 17.2 0"/>
<path id="ringBot" d="M-19.1 0A19.1 19.1 0 0 0 19.1 0"/>
</defs>
<g font-family="'Liberation Sans','DejaVu Sans',sans-serif" font-weight="bold" font-size="2.6" fill="#5b50bf">
<text textLength="52.4" lengthAdjust="spacingAndGlyphs"><textPath href="#ringTop" startOffset="0.8">NATIONAL OCEANIC AND ATMOSPHERIC ADMINISTRATION</textPath></text>
<text textLength="40" lengthAdjust="spacingAndGlyphs"><textPath href="#ringBot" startOffset="10">U.S. DEPARTMENT OF COMMERCE</textPath></text>
</g>
<circle r="16.3" fill="#6a56c2"/>
<path d="M-15.9 -3.9C-12.6 -3.2 -8 1.8 -3.4 4.8L-5 6.9L1.5 5.8L7.5 3.5L7.2 2.9L3.8 3.5C8 0.6 11 -4.4 15.5 -6.1A16.3 16.3 0 0 0 -15.9 -3.9Z" fill="#fff"/>
<path d="M-12.9 -9.9A16.3 16.3 0 0 1 13.2 -9.6C10.2 -7 8 1.4 0.6 2.6C-5.6 1.4 -8.4 -6.6 -12.9 -9.9Z" fill="#1d0098"/>
<text x="-0.15" y="-5.25" text-anchor="middle" font-family="'Liberation Sans','DejaVu Sans',sans-serif" font-weight="bold" font-size="6.4" fill="#fff" textLength="13.6" lengthAdjust="spacingAndGlyphs">NOAA</text>
</g>

<g font-family="'DejaVu Sans','Liberation Sans',sans-serif" fill="#000">
<text x="414.5" y="25" font-size="19.1" text-anchor="middle">MANCHESTER, NH - 2023</text>
<text x="44" y="56" font-size="12" text-anchor="end">110</text>
<text x="784.6" y="56" font-size="12">110</text>
<text x="43.3" y="96" font-size="12" text-anchor="end">90</text>
<text x="784.6" y="96" font-size="12">90</text>
<text x="43.3" y="136" font-size="12" text-anchor="end">70</text>
<text x="784.6" y="136" font-size="12">70</text>
<text x="43.3" y="176" font-size="12" text-anchor="end">50</text>
<text x="784.6" y="176" font-size="12">50</text>
<text x="43.3" y="216" font-size="12" text-anchor="end">30</text>
<text x="784.6" y="216" font-size="12">30</text>
<text x="44" y="256" font-size="12" text-anchor="end">10</text>
<text x="784.6" y="256" font-size="12">10</text>
<text x="43.9" y="296" font-size="12" text-anchor="end" letter-spacing="0.6">-10</text>
<text x="784.6" y="296" font-size="12">-10</text>
<text x="43.9" y="336" font-size="12" text-anchor="end" letter-spacing="0.6">-30</text>
<text x="784.6" y="336" font-size="12">-30</text>
<text x="42.3" y="363" font-size="12" text-anchor="end">40</text>
<text x="784.6" y="363" font-size="12">40</text>
<text x="43.3" y="391" font-size="12" text-anchor="end">35</text>
<text x="784.6" y="391" font-size="12">35</text>
<text x="43.3" y="419" font-size="12" text-anchor="end">30</text>
<text x="784.6" y="419" font-size="12">30</text>
<text x="43.3" y="447" font-size="12" text-anchor="end">25</text>
<text x="784.6" y="447" font-size="12">25</text>
<text x="43.3" y="474" font-size="12" text-anchor="end">20</text>
<text x="784.6" y="474" font-size="12">20</text>
<text x="44" y="502" font-size="12" text-anchor="end">15</text>
<text x="784.6" y="502" font-size="12">15</text>
<text x="44" y="530" font-size="12" text-anchor="end">10</text>
<text x="784.6" y="530" font-size="12">10</text>
<text x="43.3" y="558" font-size="12" text-anchor="end">5</text>
<text x="784.6" y="558" font-size="12">5</text>
<text x="42.3" y="611" font-size="12" text-anchor="end">45</text>
<text x="784.6" y="611" font-size="12">45</text>
<text x="43.3" y="636" font-size="12" text-anchor="end">30</text>
<text x="784.6" y="636" font-size="12">30</text>
<text x="44" y="661" font-size="12" text-anchor="end">15</text>
<text x="784.6" y="661" font-size="12">15</text>
<text transform="translate(21 180.5) rotate(-90)" font-size="16.5" text-anchor="middle">Temperature (Deg F)</text>
<text transform="translate(21 456) rotate(-90)" font-size="16.5" text-anchor="middle">Precipitation (Inches)</text>
<text transform="translate(21 631) rotate(-90)" font-size="16.6" text-anchor="middle">Snow (inches)</text>
<text x="52.2" y="693" font-size="14.4">Jan</text>
<text x="112" y="693" font-size="14.4">Feb</text>
<text x="168" y="693" font-size="14.4">Mar</text>
<text x="230" y="693" font-size="14.4">Apr</text>
<text x="290" y="693" font-size="14.4">May</text>
<text x="352" y="693" font-size="14.4">Jun</text>
<text x="412" y="693" font-size="14.4">Jul</text>
<text x="475" y="693" font-size="14.4">Aug</text>
<text x="537" y="693" font-size="14.4">Sep</text>
<text x="597" y="693" font-size="14.4">Oct</text>
<text x="659" y="693" font-size="14.4">Nov</text>
<text x="719" y="693" font-size="14.4">Dec</text>
<text x="510.2" y="392" font-size="16.5" text-anchor="middle">33.47</text>
<text x="510.3" y="599" font-size="16.5" text-anchor="middle">47.3</text>
<rect x="50" y="705" width="41" height="6" fill="#ccccff" shape-rendering="crispEdges"/>
<text x="93" y="710" font-size="12" textLength="73" lengthAdjust="spacing">Record Min</text>
<rect x="200" y="705" width="41" height="6" fill="#ffcccc" shape-rendering="crispEdges"/>
<text x="243" y="710" font-size="12" textLength="77" lengthAdjust="spacing">Record Max</text>
<rect x="350" y="705" width="41" height="6" fill="#ccffcc" shape-rendering="crispEdges"/>
<text x="393" y="710" font-size="12" textLength="47" lengthAdjust="spacing">Normal</text>
<rect x="490" y="705" width="41" height="6" fill="#aaaa55" shape-rendering="crispEdges"/>
<text x="533" y="710" font-size="12" textLength="92.5" lengthAdjust="spacing">Below Normal</text>
<rect x="650" y="705" width="41" height="6" fill="#006600" shape-rendering="crispEdges"/>
<text x="693" y="710" font-size="12" textLength="94.5" lengthAdjust="spacing">Above Normal</text>
</g>
</svg></body></html>
